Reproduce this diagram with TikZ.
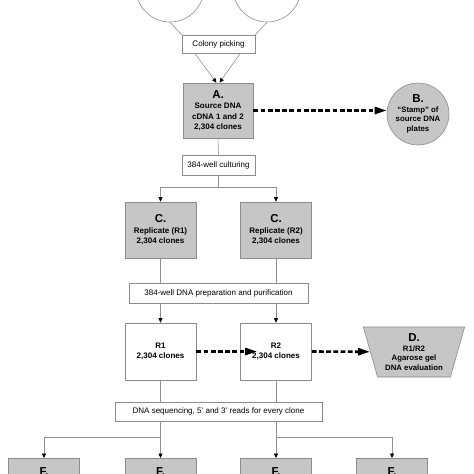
\documentclass[tikz,border=0pt]{standalone}
\usepackage{fontspec}
\setmainfont{Liberation Sans}
\usetikzlibrary{shapes.geometric,arrows.meta}
\definecolor{boxgray}{HTML}{C6C6C6}
\definecolor{edgegray}{HTML}{8C8C8C}
\definecolor{linegray}{HTML}{909090}
\newcommand{\hdg}[1]{{\bfseries\fontsize{11.5}{12.5}\selectfont #1}}
\begin{document}
\begin{tikzpicture}[x=1pt,y=-1pt,
  every node/.style={font=\fontsize{8}{9.2}\selectfont, align=center, inner sep=0pt},
  whitebox/.style={draw=edgegray, fill=white, rectangle, line width=0.6pt},
  graybox/.style={draw=edgegray, fill=boxgray, rectangle, line width=0.6pt, font=\bfseries\fontsize{8}{10.5}\selectfont},
  conn/.style={draw=linegray, line width=0.6pt},
  arr/.style={conn, -{Triangle[length=4.5pt,width=4pt,fill=black,color=black]}},
  dasharr/.style={draw=black, line width=2.6pt, dash pattern=on 4.8pt off 2.4pt, -{Triangle[length=12pt,width=7pt,fill=black]}}
]
\useasboundingbox (0,0) rectangle (474,474);
\begin{scope}
\clip (0,0) rectangle (474,474);
% top circles
\node[circle, draw=edgegray, line width=0.6pt, minimum size=68pt] (circL) at (170,-12) {};
\node[circle, draw=edgegray, line width=0.6pt, minimum size=68pt] (circR) at (267,-12) {};
% colony picking
\node[whitebox, minimum width=73pt, minimum height=18pt] (colony) at (218.5,44) {Colony picking};
\draw[conn] (circL.south) -- (colony.north west);
\draw[conn] (circR.south) -- (colony.north east);
% A
\node[graybox, minimum width=70pt, minimum height=55pt] (A) at (218,110.5)
  {\hdg{A.}\\Source DNA\\cDNA 1 and 2\\2,304 clones};
\draw[arr] ([xshift=13pt]colony.south west) -- ([xshift=-1.5pt]A.north);
\draw[arr] ([xshift=-15pt]colony.south east) -- ([xshift=1.5pt]A.north);
% B
\node[circle, draw=edgegray, fill=boxgray, line width=0.6pt, minimum size=62pt,
  font=\bfseries\fontsize{7.8}{9.6}\selectfont] (B) at (418,114)
  {\hdg{B.}\\``Stamp'' of\\source DNA\\plates};
\draw[dasharr] (A.east) -- (B.west |- A.east);
% culturing
\node[whitebox, minimum width=73pt, minimum height=20pt] (cult) at (218.5,165) {384-well culturing};
\draw[conn] (A.south) -- (cult.north);
% C boxes
\node[graybox, minimum width=71pt, minimum height=56pt] (C1) at (160.5,230)
  {\hdg{C.}\\Replicate (R1)\\2,304 clones};
\node[graybox, minimum width=71pt, minimum height=56pt] (C2) at (276,230)
  {\hdg{C.}\\Replicate (R2)\\2,304 clones};
\coordinate (cultJ) at (218.5,187);
\draw[conn] (cult.south) -- (cultJ);
\draw[arr] (cultJ) -| (C1.north);
\draw[arr] (cultJ) -| (C2.north);
% prep
\node[whitebox, minimum width=179pt, minimum height=20pt] (prep) at (218.5,293)
  {384-well DNA preparation and purification};
\draw[conn] (C1.south) -- (C1.south |- prep.north);
\draw[conn] (C2.south) -- (C2.south |- prep.north);
% R boxes
\node[whitebox, minimum width=71pt, minimum height=57pt, font=\bfseries\fontsize{8}{10.5}\selectfont] (R1) at (160.5,351.5)
  {R1\\2,304 clones};
\node[whitebox, minimum width=71pt, minimum height=57pt, font=\bfseries\fontsize{8}{10.5}\selectfont] (R2) at (276,351.5)
  {R2\\2,304 clones};
\draw[arr] (R1.north |- prep.south) -- (R1.north);
\draw[arr] (R2.north |- prep.south) -- (R2.north);
% D
\node[trapezium, shape border rotate=180, trapezium left angle=73, trapezium right angle=73,
  trapezium stretches=true, draw=edgegray, fill=boxgray, line width=0.6pt,
  minimum width=102pt, minimum height=50pt,
  font=\bfseries\fontsize{7.8}{9.6}\selectfont] (D) at (414,352)
  {\hdg{D.}\\R1/R2\\Agarose gel\\DNA evaluation};
\draw[dasharr] (R1.east) -- ([xshift=17pt]R2.west);
\draw[dasharr] (R2.east) -- (D);
% seq
\node[whitebox, minimum width=207pt, minimum height=19pt] (seq) at (218.5,411.5)
  {DNA sequencing, 5' and 3' reads for every clone};
\draw[conn] (R1.south) -- (R1.south |- seq.north);
\draw[conn] (R2.south) -- (R2.south |- seq.north);
% F boxes
\tikzset{fbox/.style={graybox, minimum width=71pt, anchor=north, text height=15pt, text depth=48pt, inner ysep=2pt}}
\node[fbox] (F1) at (44,458) {\hdg{F.}};
\node[fbox] (F2) at (160.5,458) {\hdg{F.}};
\node[fbox] (F3) at (276,458) {\hdg{F.}};
\node[fbox] (F4) at (392,458) {\hdg{F.}};
\coordinate (jL) at (160.5,437.5);
\coordinate (jR) at (276,437);
\draw[arr] (F2.north |- seq.south) -- (F2.north);
\draw[arr] (F3.north |- seq.south) -- (F3.north);
\draw[arr] (jL) -| (F1.north);
\draw[arr] (jR) -| (F4.north);
\end{scope}
\end{tikzpicture}
\end{document}
